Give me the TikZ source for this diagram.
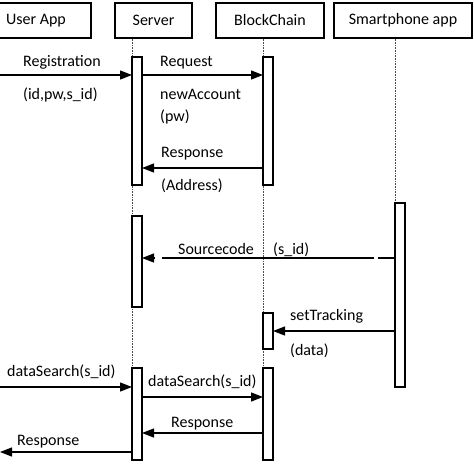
\documentclass[tikz,border=0pt]{standalone}
\usepackage{fontspec}
\setmainfont{Carlito}
\usetikzlibrary{arrows.meta}

\tikzset{
	head/.style = {draw, line width = 1.1pt, rectangle, minimum height = 35pt, inner sep = 0pt},
	bar/.style = {draw, line width = 1.1pt, fill = white, rectangle, minimum width = 10pt, inner sep = 0pt, outer sep = 0pt, anchor = north west},
	life/.style = {densely dotted, line width = 0.6pt, color = black!70},
	msg/.style = {-{Triangle[length = 12pt, width = 9pt]}, line width = 1.3pt},
	lbl/.style = {anchor = base west, inner sep = 0pt}
}

\begin{document}
\begin{tikzpicture}[x = 1pt, y = -1pt, font = \fontsize{16}{19}\selectfont]
	\useasboundingbox (0,0) rectangle (474,474);
	% heads
	\node [head, minimum width = 110pt] (ua) at (36,20.5) {User App};
	\node [head, minimum width = 77pt] (srv) at (153.5,20.5) {Server};
	\node [head, minimum width = 108pt] (bc) at (270,20.5) {BlockChain};
	\node [head, minimum width = 138pt] (sp) at (403,20.5) {Smartphone app};
	% bars
	\coordinate (srvL) at (132,0);
	\coordinate (bcL) at (263,0);
	\coordinate (spL) at (395,0);
	\path (srvL |- 0,460) coordinate (srvEnd);
	\path (bcL |- 0,460) coordinate (bcEnd);
	\draw [life] (srv.south -| srvL) -- (srvEnd);
	\draw [life] (bc.south -| bcL) -- (bcEnd);
	\draw [life] (sp.south -| spL) -- (spL |- 0,203);
	\node [bar, minimum height = 128pt] (srvA) at (132,57) {};
	\node [bar, minimum height = 128pt] (bcA) at (263,57) {};
	\node [bar, minimum height = 91pt] (srvB) at (132,216) {};
	\node [bar, minimum height = 184pt] (spA) at (395,203) {};
	\node [bar, minimum height = 36pt] (bcB) at (263,313) {};
	\node [bar, minimum height = 92pt] (srvC) at (132,368) {};
	\node [bar, minimum height = 92pt] (bcC) at (263,368) {};
	% messages
	\coordinate (uaReg) at (0,75);
	\draw [msg] (uaReg) -- (srvA.west |- uaReg);
	\node [lbl] at (23,66) {Registration};
	\node [lbl] at (23,99) {(id,pw,s\_id)};
	\draw [msg] (srvA.east |- uaReg) -- (bcA.west |- uaReg);
	\node [lbl] at (160,66) {Request};
	\node [lbl] at (160,99) {newAccount};
	\node [lbl] at (160,121) {(pw)};
	\draw [msg] (bcA.west |- 0,168) -- (srvA.east |- 0,168);
	\node [lbl] at (161,157) {Response};
	\node [lbl] at (161,190) {(Address)};
	\draw [msg, dash pattern = on 17pt off 4pt on 212pt off 7pt] (spA.west |- 0,258) -- (srvB.east |- 0,258);
	\node [lbl] at (178,254) {Sourcecode};
	\node [lbl] at (273,254) {(s\_id)};
	\draw [msg] (spA.west |- 0,331) -- (bcB.east |- 0,331);
	\node [lbl] at (290,320) {setTracking};
	\node [lbl] at (290,355) {(data)};
	\coordinate (uaSearch) at (0,387);
	\draw [msg] (uaSearch) -- (srvC.west |- uaSearch);
	\node [lbl] at (7,376) {dataSearch(s\_id)};
	\draw [msg] (srvC.east |- 0,397) -- (bcC.west |- 0,397);
	\node [lbl] at (148,386) {dataSearch(s\_id)};
	\draw [msg] (bcC.west |- 0,433) -- (srvC.east |- 0,433);
	\node [lbl] at (171,427) {Response};
	\coordinate (uaBack) at (0,452);
	\draw [msg] (srvC.west |- uaBack) -- (uaBack);
	\node [lbl] at (17,445) {Response};
\end{tikzpicture}
\end{document}
